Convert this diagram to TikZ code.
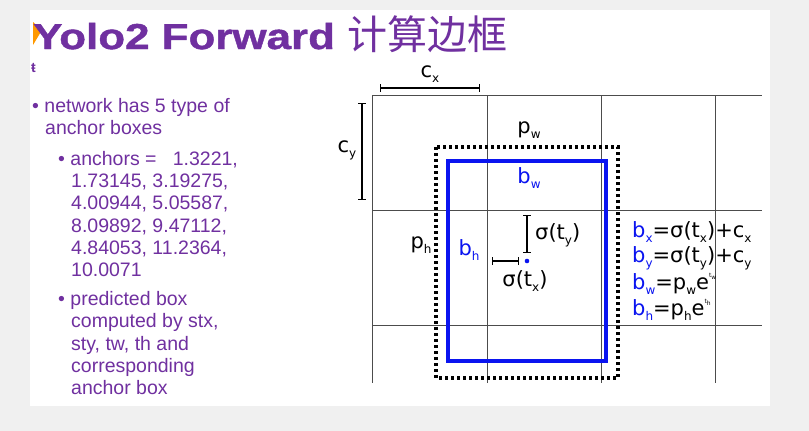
\documentclass[tikz,border=0pt]{standalone}
\usepackage{fontspec}
\setmainfont{Liberation Sans}
\newfontfamily\dv{DejaVu Sans}
\newfontfamily\cjk{Noto Sans CJK SC}
\newfontfamily\titlefont[FakeStretch=1.22,FakeBold=1.2]{Liberation Sans Bold}
\definecolor{purp}{HTML}{7030A0}
\definecolor{bblue}{HTML}{0A14F0}
\newcommand{\sbx}[1]{\raisebox{-0.25em}{\fontsize{12}{12}\selectfont #1}}
\newcommand{\spx}[1]{\raisebox{0.55em}{\fontsize{6}{6}\selectfont t\raisebox{-0.2em}{#1}}}
\begin{document}
\begin{tikzpicture}[x=1pt,y=-1pt,
  grid/.style={draw=black!70,line width=0.7pt},
  txt/.style={anchor=base west,text=purp,font=\fontsize{19.5}{19.5}\selectfont,inner sep=0},
  lab/.style={font=\dv\fontsize{21}{21}\selectfont,inner sep=0},
  blab/.style={lab,text=bblue}]
\useasboundingbox (0,0) rectangle (809,431);
\fill[black!6] (0,0) rectangle (809,431);
\fill[white] (30,10) rectangle (770,406);
\fill[orange!80!yellow] (33,22) -- (42,30) -- (33,45) -- cycle;
\node[anchor=base west,inner sep=0,text=purp,font=\fontsize{36}{36}\selectfont] (title) at (33,49) {\titlefont Yolo2 Forward\ \cjk\fontsize{40}{40}\selectfont 计算边框};
\node[txt,font=\bfseries\fontsize{14}{14}\selectfont] (cut) at (31,72) {ŧ};
% text
\node[txt] (l1) at (32,112) {•\ network has 5 type of};
\node[txt] (l2) at (45,134) {anchor boxes};
\node[txt] (l3) at (58,165) {•\ anchors =\ \ \ 1.3221,};
\node[txt] (l4) at (71,187) {1.73145, 3.19275,};
\node[txt] (l5) at (71,209) {4.00944, 5.05587,};
\node[txt] (l6) at (71,232) {8.09892, 9.47112,};
\node[txt] (l7) at (71,254) {4.84053, 11.2364,};
\node[txt] (l8) at (71,276) {10.0071};
\node[txt] (l9) at (58,305) {•\ predicted box};
\node[txt] (l10) at (71,327) {computed by stx,};
\node[txt] (l11) at (71,350) {sty, tw, th and};
\node[txt] (l12) at (71,372) {corresponding};
\node[txt] (l13) at (71,394) {anchor box};
% grid
\foreach \x in {372,487,601,715} \draw[grid] (\x,95) -- (\x,383);
\foreach \y in {95,210,325} \draw[grid] (372,\y) -- (762,\y);
% boxes
\draw[line width=4pt,dash pattern=on 3pt off 3pt] (436,147) rectangle (618,378);
\draw[bblue,line width=3.5pt] (448,161) rectangle (606,361);
% cx / cy
\draw[line width=1.2pt,|-|] (380,88) -- (480,88);
\node[lab] (cx) at (430,74) {c\sbx{x}};
\draw[line width=1.2pt,|-|] (362,103) -- (362,200);
\node[lab] (cy) at (347,150) {c\sbx{y}};
\node[lab] (pw) at (529,130) {p\sbx{w}};
\node[blab] (bw) at (529,178) {b\sbx{w}};
\node[lab] (ph) at (421,245) {p\sbx{h}};
\node[blab] (bh) at (469,250) {b\sbx{h}};
% sigma
\coordinate (c) at (527,261);
\fill[bblue] (c) circle (2.3);
\draw[line width=1.2pt,|-|] (492,261) -- (519,261);
\draw[line width=1.2pt,|-|] (527,215) -- (527,253);
\node[lab,anchor=west] (sy) at (535,235) {σ(t\sbx{y})};
\node[lab] (sx) at (525,281) {σ(t\sbx{x})};
% formulas
\node[lab,anchor=west] (f1) at (632,232) {\textcolor{bblue}{b\sbx{x}}=σ(t\sbx{x})+c\sbx{x}};
\node[lab,anchor=west] (f2) at (632,258) {\textcolor{bblue}{b\sbx{y}}=σ(t\sbx{y})+c\sbx{y}};
\node[lab,anchor=west] (f3) at (632,284) {\textcolor{bblue}{b\sbx{w}}=p\sbx{w}e\spx{w}};
\node[lab,anchor=west] (f4) at (632,310) {\textcolor{bblue}{b\sbx{h}}=p\sbx{h}e\spx{h}};
\end{tikzpicture}
\end{document}
